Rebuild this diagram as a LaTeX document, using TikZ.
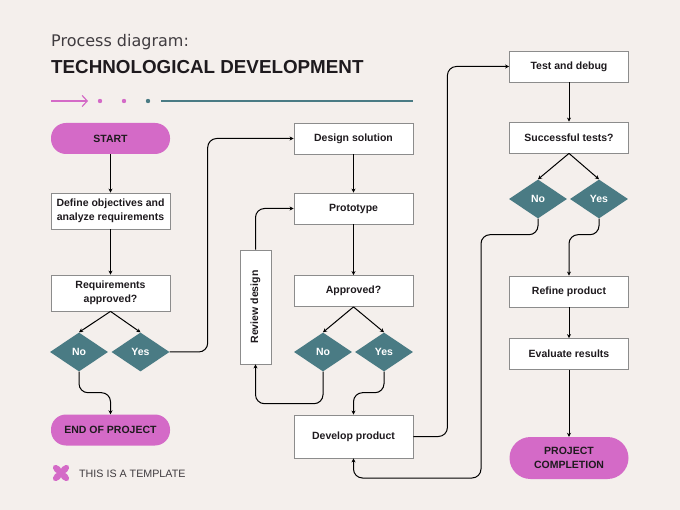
\documentclass[tikz,border=0pt]{standalone}
\usepackage{fontspec}
\setmainfont{Liberation Sans}
\newfontfamily\titlefont{DejaVu Sans}
\usepackage{tikz}
\usetikzlibrary{arrows,arrows.meta,shapes}
\definecolor{bgcol}{HTML}{F4EFEC}
\definecolor{pinkfill}{HTML}{D46AC7}
\definecolor{tealfill}{HTML}{4A7B84}
\definecolor{boxline}{HTML}{8C8C8C}
\definecolor{darktext}{HTML}{1E1A1E}

\begin{document}
\begin{tikzpicture}[x=1pt, y=-1pt,
process/.style={rectangle,draw=boxline,line width=0.8pt,fill=white,minimum width=119pt,minimum height=31pt,inner sep=2pt,align=center,font=\bfseries\fontsize{10.5}{14}\selectfont,text=darktext},
decision/.style={diamond,fill=tealfill,minimum width=58pt,minimum height=39pt,inner sep=0pt,text=white,font=\bfseries\fontsize{10.5}{12}\selectfont},
terminal/.style={rectangle,fill=pinkfill,rounded corners=15pt,minimum width=119pt,minimum height=31pt,align=center,font=\bfseries\fontsize{10.5}{14}\selectfont,text=darktext},
flow/.style={line width=1pt,-{Stealth[length=4pt,width=4pt]},rounded corners=9pt},
]
\fill[bgcol] (0,0) rectangle (680,510);

% header
\node[anchor=base west,inner sep=0pt,text=darktext!85,font=\titlefont\fontsize{16}{19}\selectfont] (subtitle) at (51,47) {Process diagram:};
\node[anchor=base west,inner sep=0pt,text=darktext,font=\bfseries\fontsize{18.8}{22}\selectfont] (title) at (51,74) {TECHNOLOGICAL DEVELOPMENT};
\draw[pinkfill,line width=1.2pt,-{Straight Barb[length=5pt,width=11pt]}] (51,101) -- (88,101);
\fill[pinkfill] (100,101) circle (2.2) (124,101) circle (2.2);
\fill[tealfill] (148,101) circle (2.2);
\draw[tealfill,line width=1.2pt] (161,101) -- (413,101);

% first column
\node[terminal] (start) at (110.5,138.5) {START};
\node[process,minimum height=36pt] (define) at (110.5,211) {Define objectives and\\analyze requirements};
\node[process,minimum height=36pt] (req) at (110.5,293) {Requirements\\approved?};
\node[decision] (noA) at (79,352) {No};
\node[decision] (yesA) at (140.5,352) {Yes};
\node[terminal] (endp) at (110.5,430) {END OF PROJECT};

% second column
\node[process] (design) at (353.5,138.5) {Design solution};
\node[process] (proto) at (353.5,208.5) {Prototype};
\node[process] (approved) at (353.5,291) {Approved?};
\node[decision] (noB) at (323,352) {No};
\node[decision] (yesB) at (384,352) {Yes};
\node[process,rotate=90,minimum width=114pt,minimum height=31pt] (review) at (255.5,307) {Review design};
\node[process,minimum height=43pt] (develop) at (353.5,436.5) {Develop product};

% third column
\node[process] (test) at (569,66.5) {Test and debug};
\node[process] (succ) at (569,137.5) {Successful tests?};
\node[decision] (noC) at (538,199) {No};
\node[decision] (yesC) at (599,199) {Yes};
\node[process] (refine) at (569,291.5) {Refine product};
\node[process] (evaluate) at (569,354) {Evaluate results};
\node[terminal,rounded corners=21pt,minimum height=42pt] (complete) at (569,458) {PROJECT\\COMPLETION};

% footer
\foreach \a in {45,135,225,315}
  \fill[pinkfill,rotate around={\a:(61,473)}] (66,473) ellipse (5.5 and 3.4);
\node[anchor=base west,inner sep=0pt,text=darktext!85,font=\fontsize{10.7}{12}\selectfont] (template) at (79,477) {THIS IS A TEMPLATE};

% connectors
\draw[flow] (start) -- (define);
\draw[flow] (define) -- (req);
\draw[flow] (req.south) -- (noA.north);
\draw[flow] (req.south) -- (yesA.north);
\draw[flow] (noA.south) -- ++(0,21) -| (endp.north);
\draw[flow] (yesA.east) -- ++(38,0) |- (design.west);
\draw[flow] (design) -- (proto);
\draw[flow] (proto) -- (approved);
\draw[flow] (approved.south) -- (noB.north);
\draw[flow] (approved.south) -- (yesB.north);
\draw[flow] (noB.south) -- ++(0,32) -| (review.west);
\draw[flow] (review.east) |- (proto.west);
\draw[flow] (yesB.south) -- ++(0,21) -| (develop.north);
\draw[flow] (develop.east) -- ++(34,0) |- (test.west);
\draw[flow] (test) -- (succ);
\draw[flow] (succ.south) -- (noC.north);
\draw[flow] (succ.south) -- (yesC.north);
\coordinate (loop) at (481,478);
\draw[flow] (noC.south) -- ++(0,16) -| (loop) -| (develop.south);
\draw[flow] (yesC.south) -- ++(0,16) -| (refine.north);
\draw[flow] (refine) -- (evaluate);
\draw[flow] (evaluate) -- (complete);
\end{tikzpicture}
\end{document}
